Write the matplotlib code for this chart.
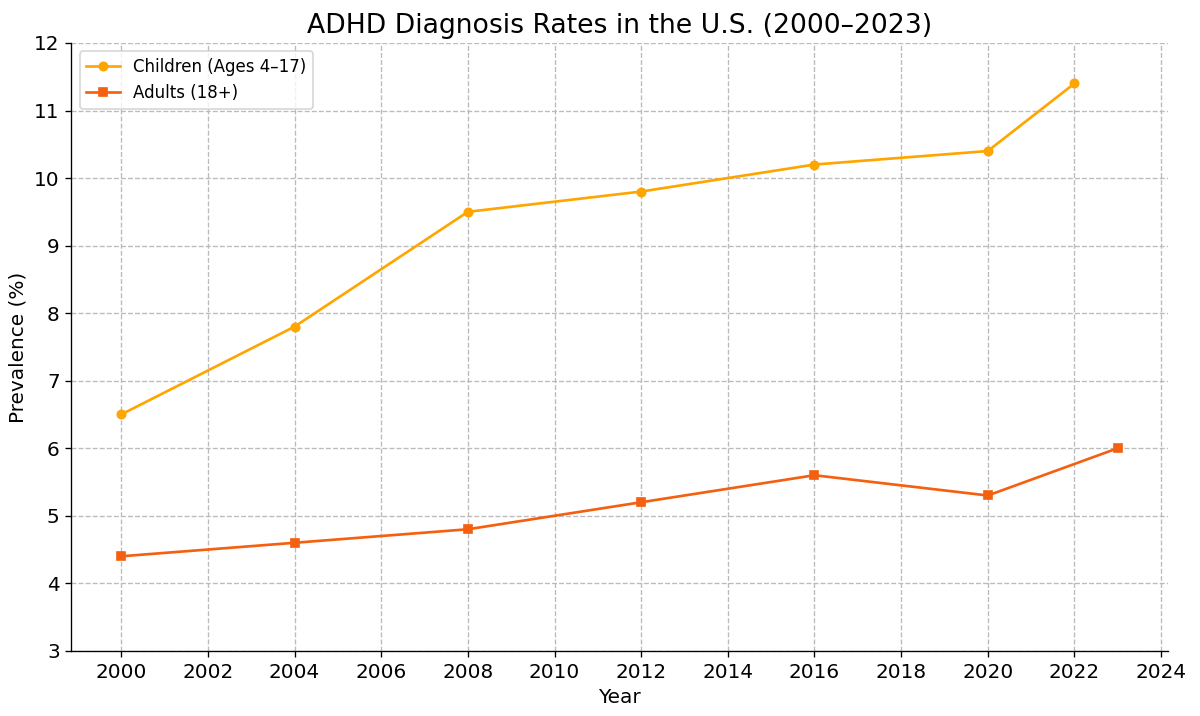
import matplotlib.pyplot as plt

# data
years_children = [2000, 2004, 2008, 2012, 2016, 2020, 2022]
children = [6.5, 7.8, 9.5, 9.8, 10.2, 10.4, 11.4]
years_adults = [2000, 2004, 2008, 2012, 2016, 2020, 2023]
adults = [4.4, 4.6, 4.8, 5.2, 5.6, 5.3, 6.0]

fig, ax = plt.subplots(figsize=(10, 716 / 120), dpi=120)
fig.subplots_adjust(left=0.0595, right=0.973, top=0.94, bottom=0.091)

ax.plot(years_children, children, marker='o', color='#FFA500', linewidth=1.6,
        markersize=5, label='Children (Ages 4–17)')
ax.plot(years_adults, adults, marker='s', color='#F4600F', linewidth=1.6,
        markersize=5, label='Adults (18+)')

ax.set_title('ADHD Diagnosis Rates in the U.S. (2000–2023)', fontsize=16)
ax.set_xlabel('Year', fontsize=12)
ax.set_ylabel('Prevalence (%)', fontsize=12)
ax.set_ylim(3, 12)
ax.set_xticks(range(2000, 2025, 2))
ax.tick_params(labelsize=12)
ax.grid(True, linestyle='--', color='#bbbbbb', linewidth=0.8)
ax.spines['top'].set_visible(False)
ax.spines['right'].set_visible(False)
ax.legend(loc='upper left', fontsize=10)

fig.savefig('out.png', dpi=120)
